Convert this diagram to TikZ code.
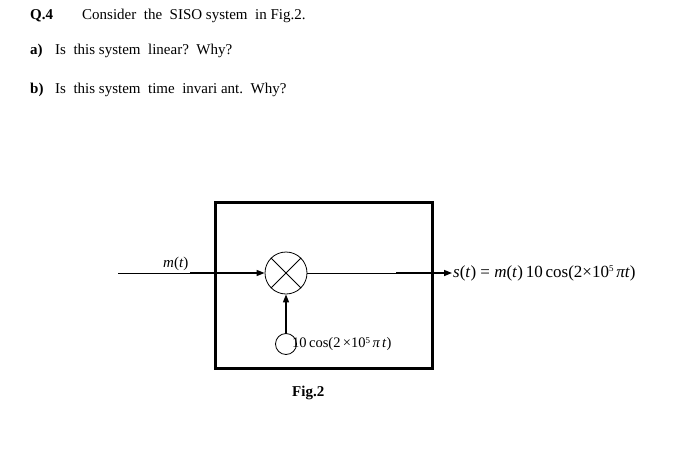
\documentclass[tikz,border=0pt]{standalone}
\usepackage{fontspec}
\setmainfont{Liberation Serif}
\usetikzlibrary{arrows.meta}
\newcommand{\vv}[1]{\textit{#1}}
\begin{document}
\begin{tikzpicture}[x=1pt,y=-1pt,
  txt/.style={anchor=base west,inner sep=0pt,font=\fontsize{15}{17}\selectfont},
  btxt/.style={txt,font=\bfseries\fontsize{15}{17}\selectfont},
  conn/.style={line width=1.4pt,-{Triangle[length=8pt,width=6pt]}},
  thin/.style={line width=0.8pt}]
\useasboundingbox (0,0) rectangle (697,461);
\node[btxt] (q) at (30,19) {Q.4};
\node[txt] (c) at (82,19) {Consider\ \ the\ \ SISO\ system\ \ in\ Fig.2.};
\node[btxt] (a) at (30,54) {a)};
\node[txt] (at) at (55,54) {Is\ \ this\ system\ \ linear?\ \ Why?};
\node[btxt] (b) at (30,93) {b)};
\node[txt] (bt) at (55,93) {Is\ \ this\ system\ \ time\ \ invari ant.\ \ Why?};
\node[draw,line width=2.5pt,minimum width=217pt,minimum height=166pt,anchor=north west,inner sep=0pt] (box) at (214,201) {};
\node[draw,circle,thin,minimum size=42pt,inner sep=0pt] (mul) at (286,273) {};
\draw[thin] (mul.45) -- (mul.225) (mul.135) -- (mul.315);
\node[draw,circle,thin,minimum size=21pt,inner sep=0pt] (osc) at (286,344) {};
\coordinate (in) at (118,273);
\coordinate (out) at (452,273);
\draw[thin] (in) -- (190,273);
\draw[conn] (190,273) -- (mul.west);
\draw[thin] (mul.east) -- (396,273);
\draw[conn] (396,273) -- (out);
\draw[conn] (osc.north) -- (mul.south);
\node[anchor=south west,inner sep=1pt,font=\fontsize{15}{17}\selectfont] (m) at (162,272) {\vv{m}(\vv{t})};
\node[anchor=west,inner sep=1pt,font=\fontsize{17}{19}\selectfont] (s) at (out) {\vv{s}(\vv{t}) = \vv{m}(\vv{t})\,10\,cos(2×10\raisebox{0.7ex}{\fontsize{9}{10}\selectfont 5}\,\vv{πt})};
\node[anchor=west,inner sep=0pt,font=\fontsize{14.5}{16}\selectfont] (ol) at (292,344) {10\,cos(2\,×10\raisebox{0.7ex}{\fontsize{9}{10}\selectfont 5}\,\vv{π\,t})};
\node[btxt] (f) at (292,396) {Fig.2};
\end{tikzpicture}
\end{document}
